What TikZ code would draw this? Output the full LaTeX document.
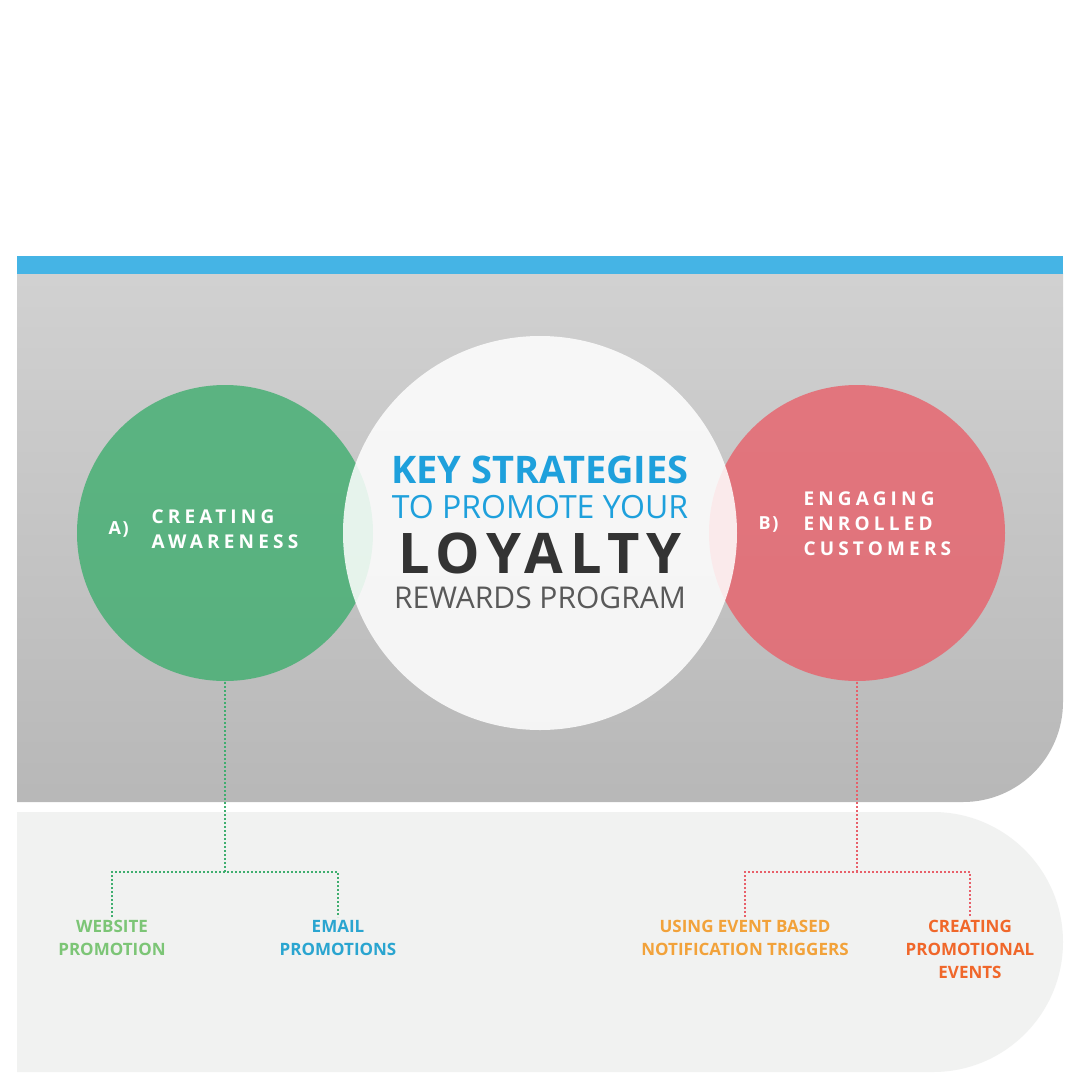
\documentclass[tikz,border=0pt]{standalone}
\usepackage{fontspec}
\setmainfont{Open Sans}
\newfontfamily\spaced[LetterSpace=22]{Open Sans}
\newfontfamily\spacedb[LetterSpace=12]{Open Sans}
\definecolor{topblue}{HTML}{45B4E5}
\definecolor{kblue}{HTML}{1EA0DC}
\definecolor{cgreen}{HTML}{3FAE6F}
\definecolor{cred}{HTML}{E8606A}
\definecolor{lgreen}{HTML}{7CC576}
\definecolor{lblue}{HTML}{2AA5D0}
\definecolor{lorange}{HTML}{F2A23A}
\definecolor{lred}{HTML}{F0672A}
\definecolor{panel}{HTML}{F1F2F1}
\definecolor{dark}{HTML}{333333}
\usetikzlibrary{calc}
\begin{document}
\begin{tikzpicture}[x=1pt,y=-1pt,
  lbl/.style={font=\bfseries\fontsize{17}{23}\selectfont,align=center,anchor=north},
  circtxt/.style={text=white,font=\spaced\bfseries\fontsize{19}{25}\selectfont,align=left},
  gdot/.style={cgreen,line width=2pt,dotted},
  rdot/.style={cred,line width=2pt,dotted}]
\useasboundingbox (0,0) rectangle (1080,1080);
\fill[white] (0,0) rectangle (1080,1080);
% photo area
\shade[top color=black!18,bottom color=black!28]
  (17,273) -- (1063,273) -- (1063,702) arc[start angle=0,end angle=90,radius=100] -- (17,802) -- cycle;
\fill[topblue] (17,256) rectangle (1063,274);
% lower panel
\fill[panel] (17,812) -- (933,812) arc[start angle=-90,end angle=0,radius=130] -- (1063,942) arc[start angle=0,end angle=90,radius=130] -- (17,1072) -- cycle;
% circles
\fill[cgreen,opacity=.8] (225,533) circle[radius=148];
\fill[cred,opacity=.8] (857,533) circle[radius=148];
\fill[white,opacity=.85] (540,533) circle[radius=197];
\node (gc) at (225,533) {};
\node (rc) at (857,533) {};
\node (t1) at (540,470) {\textcolor{kblue}{\bfseries\fontsize{38}{40}\selectfont KEY STRATEGIES}};
\node (t2) at (540,507) {\textcolor{kblue}{\fontsize{32}{36}\selectfont TO PROMOTE YOUR}};
\node (t3) at (540,553) {\textcolor{dark}{\spacedb\bfseries\fontsize{56}{60}\selectfont LOYALTY}};
\node (t4) at (540,598) {\textcolor{black!65}{\fontsize{30}{34}\selectfont REWARDS PROGRAM}};
\node[circtxt,anchor=west] (ga) at (105,529) {\fontspec{Open Sans}[LetterSpace=10]\fontsize{18}{25}\selectfont A)};
\node[circtxt,anchor=west] (gt) at (148,529) {CREATING\\AWARENESS};
\node[circtxt,anchor=west] (ra) at (755,524) {\fontspec{Open Sans}[LetterSpace=10]\fontsize{18}{25}\selectfont B)};
\node[circtxt,anchor=west] (rt) at (800,524) {ENGAGING\\ENROLLED\\CUSTOMERS};
% connectors
\coordinate (gs) at (225,682); \coordinate (gj) at (225,872);
\coordinate (gl) at (112,872); \coordinate (gr) at (338,872);
\coordinate (rs) at (857,682); \coordinate (rj) at (857,872);
\coordinate (rl) at (745,872); \coordinate (rr) at (970,872);
\node[lbl,text=lgreen] (w) at (112,917) {WEBSITE\\PROMOTION};
\node[lbl,text=lblue] (e) at (338,917) {EMAIL\\PROMOTIONS};
\node[lbl,text=lorange] (u) at (745,917) {USING EVENT BASED\\NOTIFICATION TRIGGERS};
\node[lbl,text=lred] (c) at (970,917) {CREATING\\PROMOTIONAL\\EVENTS};
\draw[gdot] (gs) -- (gj);
\draw[gdot] (gl |- w.north) -- (gl) -- (gr) -- (gr |- e.north);
\draw[rdot] (rs) -- (rj);
\draw[rdot] (rl |- u.north) -- (rl) -- (rr) -- (rr |- c.north);
\end{tikzpicture}
\end{document}
